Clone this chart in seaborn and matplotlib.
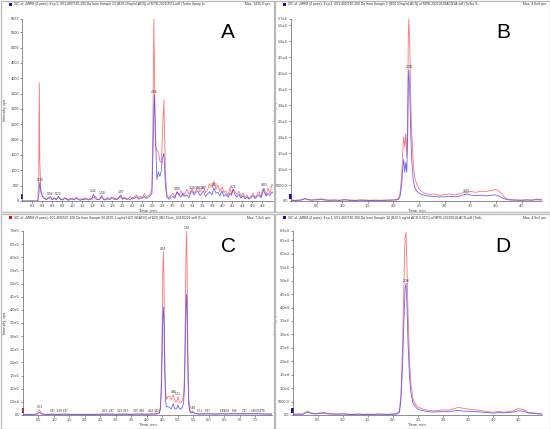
import numpy as np
import pandas as pd
import matplotlib.pyplot as plt
import seaborn as sns
from matplotlib.patches import Rectangle

sns.set_style('ticks')
plt.rcParams['font.family'] = ['Liberation Sans', 'DejaVu Sans']

# ---------------- panel A : 601.4/540.3, 10 ng/ml ----------------
A_t = [0.00, 0.31, 0.33, 0.34, 0.35, 0.37, 0.40, 0.44, 0.48, 0.52,
       0.56, 0.60, 0.64, 0.68, 0.72, 0.76, 0.80, 0.84, 0.88, 0.92,
       0.96, 1.00, 1.04, 1.08, 1.12, 1.16, 1.20, 1.24, 1.28, 1.32,
       1.36, 1.40, 1.42, 1.46, 1.50, 1.54, 1.59, 1.62, 1.66, 1.70,
       1.74, 1.78, 1.82, 1.86, 1.90, 1.94, 1.97, 2.00, 2.04, 2.08,
       2.12, 2.16, 2.20, 2.24, 2.28, 2.32, 2.36, 2.40, 2.44, 2.48,
       2.52, 2.56, 2.59, 2.61, 2.63, 2.64, 2.66, 2.69, 2.72, 2.75,
       2.78, 2.80, 2.83, 2.86, 2.89, 2.93, 2.97, 3.01, 3.05, 3.09,
       3.13, 3.17, 3.21, 3.25, 3.29, 3.33, 3.36, 3.39, 3.43, 3.47,
       3.51, 3.55, 3.59, 3.62, 3.66, 3.70, 3.74, 3.79, 3.83, 3.87,
       3.91, 3.95, 3.99, 4.03, 4.07, 4.11, 4.15, 4.18, 4.21, 4.25,
       4.29, 4.33, 4.37, 4.41, 4.45, 4.49, 4.53, 4.57, 4.61, 4.65,
       4.69, 4.73, 4.77, 4.80, 4.83, 4.87, 4.91, 4.95, 4.99, 5.01]
A_red = [0, 0, 900, 3850, 1300, 350, 180, 90, 60, 110,
         70, 40, 110, 60, 130, 80, 40, 120, 50, 30,
         90, 40, 60, 120, 40, 80, 30, 100, 60, 40,
         90, 50, 110, 160, 60, 40, 120, 70, 50, 110,
         60, 130, 50, 90, 40, 160, 110, 70, 130, 60,
         90, 150, 60, 120, 200, 90, 160, 110, 240, 130,
         180, 250, 400, 2500, 5931, 4500, 1800, 1650, 1600, 1300,
         1250, 2200, 3300, 900, 200, 90, 180, 250, 130, 300,
         180, 340, 150, 260, 380, 220, 300, 410, 260, 330,
         440, 300, 390, 480, 280, 350, 560, 420, 650, 380,
         520, 300, 460, 280, 330, 190, 420, 240, 400, 300,
         210, 320, 150, 260, 120, 200, 80, 150, 260, 110,
         200, 310, 140, 380, 300, 180, 420, 250, 550, 500]
A_blue = [0, 0, 200, 450, 600, 300, 150, 80, 40, 90,
          150, 50, 80, 40, 150, 60, 30, 70, 90, 20,
          60, 80, 30, 100, 50, 20, 70, 40, 90, 30,
          50, 100, 230, 70, 40, 60, 180, 60, 30, 80,
          40, 90, 110, 40, 70, 120, 200, 60, 100, 50,
          70, 40, 110, 80, 140, 60, 100, 90, 150, 80,
          120, 180, 250, 1500, 3000, 3450, 2200, 700, 950, 800,
          1000, 1400, 1550, 500, 120, 60, 110, 150, 90, 300,
          220, 120, 260, 150, 200, 110, 250, 330, 200, 280,
          330, 180, 260, 330, 150, 220, 300, 200, 420, 260,
          280, 170, 330, 150, 230, 120, 260, 180, 380, 200,
          130, 220, 90, 180, 70, 140, 60, 110, 180, 80,
          150, 200, 100, 250, 420, 160, 250, 180, 300, 260]
A_peaks = [0.35, 0.56, 0.72, 1.42, 1.59, 1.97, 2.64, 3.09, 3.39, 3.51, 3.62, 3.83, 4.21, 4.83]
A_peak_names = ['0.34', '0.56', '0.72', '1.42', '1.59', '1.97', '2.64', '3.09',
                '3.39', '3.51', '3.62', '3.83', '4.21', '4.83']
A_yticks = [0, 500, 1000, 1500, 2000, 2500, 3000, 3500, 4000, 4500, 5000, 5500, 5931]
A_ylabels = ['0', '500', '1000', '1500', '2000', '2500', '3000', '3500', '4000',
             '4500', '5000', '5500', '5931']

# ---------------- panel B : 50 ng/ml ----------------
B_t = [0.00, 0.10, 0.20, 0.28, 0.32, 0.40, 0.50, 0.60, 0.66, 0.75,
       0.85, 0.95, 1.05, 1.15, 1.25, 1.35, 1.45, 1.55, 1.65, 1.75,
       1.85, 1.95, 2.05, 2.10, 2.13, 2.16, 2.18, 2.20, 2.22, 2.24,
       2.26, 2.28, 2.29, 2.30, 2.32, 2.34, 2.36, 2.39, 2.42, 2.46,
       2.50, 2.55, 2.60, 2.70, 2.80, 2.90, 3.00, 3.10, 3.20, 3.30,
       3.38, 3.43, 3.50, 3.60, 3.70, 3.80, 3.90, 4.00, 4.05, 4.10,
       4.15, 4.20, 4.25, 4.30, 4.40, 4.50, 4.60, 4.70, 4.80, 4.90]
B_red = [300, 250, 350, 900, 500, 350, 500, 700, 400, 300,
         350, 250, 500, 300, 250, 350, 300, 250, 300, 250,
         300, 350, 400, 800, 2500, 8000, 15000, 20000, 17000, 21000,
         14000, 30000, 52000, 57000, 48000, 30000, 20000, 11000, 7000, 5000,
         3800, 3000, 2500, 2000, 2200, 1800, 2000, 2200, 1900, 2300,
         2800, 2600, 3000, 2700, 3100, 2900, 3300, 3600, 3200, 2500,
         1500, 800, 500, 400, 350, 300, 400, 300, 600, 400]
B_blue = [200, 150, 300, 700, 400, 250, 350, 450, 300, 200,
          250, 200, 350, 200, 150, 250, 200, 150, 200, 150,
          200, 250, 300, 500, 1500, 5000, 10000, 13000, 9000, 12000,
          9000, 22000, 38000, 41000, 33000, 20000, 12000, 6000, 4000, 3000,
          2500, 2000, 1800, 1500, 1400, 1300, 1300, 1500, 1300, 1600,
          2000, 2200, 1900, 1700, 1800, 1600, 1800, 1900, 1600, 1200,
          800, 500, 350, 300, 250, 200, 300, 250, 400, 300]
B_peaks = [2.30, 3.43]
B_peak_names = ['2.30', '3.43']
B_yticks = [0, 5000, 10000, 15000, 20000, 25000, 30000, 35000, 40000, 45000, 50000, 55000, 57000]
B_ylabels = ['0.0', '5000.0', '1.0e4', '1.5e4', '2.0e4', '2.5e4', '3.0e4', '3.5e4',
             '4.0e4', '4.5e4', '5.0e4', '5.5e4', '5.7e4']

# ---------------- panel C : 1 ug/ml, 601.4/507.3 ----------------
C_t = [0.00, 0.20, 0.40, 0.48, 0.53, 0.58, 0.65, 0.80, 0.97, 1.10,
       1.20, 1.37, 1.60, 1.80, 2.00, 2.20, 2.40, 2.63, 2.87, 3.00,
       3.13, 3.33, 3.50, 3.65, 3.84, 4.00, 4.14, 4.32, 4.40, 4.44,
       4.47, 4.50, 4.52, 4.54, 4.56, 4.58, 4.61, 4.64, 4.68, 4.72,
       4.76, 4.80, 4.83, 4.86, 4.90, 4.94, 4.98, 5.01, 5.05, 5.10,
       5.15, 5.19, 5.22, 5.25, 5.27, 5.29, 5.31, 5.33, 5.36, 5.40,
       5.44, 5.48, 5.55, 5.71, 5.97, 6.20, 6.45, 6.58, 6.86, 7.17,
       7.46, 7.62, 7.76, 7.90, 8.05]
C_red = [2000, 2500, 3000, 8000, 20000, 9000, 4000, 3000, 4000, 3000,
         3500, 4000, 3000, 2500, 3000, 2800, 3200, 4000, 4000, 3200,
         3800, 4000, 3200, 4200, 4300, 3500, 4500, 5000, 9000, 30000,
         120000, 350000, 550000, 620000, 500000, 250000, 90000, 60000, 68000, 72000,
         65000, 58000, 72000, 76000, 58000, 50000, 55000, 70000, 50000, 45000,
         55000, 75000, 150000, 400000, 620000, 700000, 520000, 250000, 60000, 18000,
         10000, 16000, 7000, 5000, 6000, 4500, 5500, 5000, 6000, 5500,
         5500, 6000, 5000, 4500, 4000]
C_blue = [1500, 1800, 2000, 4000, 10000, 5000, 2500, 2000, 2800, 2000,
          2500, 2800, 2000, 1800, 2000, 1900, 2200, 3000, 2800, 2200,
          2600, 2800, 2200, 3000, 3000, 2500, 3200, 3500, 6000, 20000,
          80000, 230000, 370000, 410000, 340000, 170000, 50000, 30000, 32000, 30000,
          26000, 24000, 35000, 42000, 25000, 22000, 28000, 38000, 25000, 22000,
          28000, 45000, 100000, 280000, 420000, 460000, 350000, 160000, 35000, 12000,
          7000, 11000, 5000, 3500, 4000, 3200, 4000, 3500, 4200, 4000,
          4000, 4200, 3500, 3200, 3000]
C_peaks = [0.53, 0.97, 1.20, 1.37, 2.63, 2.87, 3.13, 3.33, 3.65, 3.84, 4.14, 4.32,
           4.54, 4.86, 5.01, 5.29, 5.48, 5.71, 5.97, 6.45, 6.58, 6.86, 7.17, 7.46, 7.62, 7.76]
C_peak_names = ['%.2f' % p for p in C_peaks]
C_yticks = [0, 5e4, 1e5, 1.5e5, 2e5, 2.5e5, 3e5, 3.5e5, 4e5, 4.5e5, 5e5, 5.5e5, 6e5, 6.5e5, 7e5]
C_ylabels = ['0.0', '5.0e4', '1.0e5', '1.5e5', '2.0e5', '2.5e5', '3.0e5', '3.5e5',
             '4.0e5', '4.5e5', '5.0e5', '5.5e5', '6.0e5', '6.5e5', '7.0e5']

# ---------------- panel D : 5 ng/ml ----------------
D_t = [0.00, 0.10, 0.20, 0.30, 0.35, 0.45, 0.55, 0.62, 0.70, 0.80,
       0.90, 1.00, 1.10, 1.20, 1.30, 1.40, 1.50, 1.60, 1.70, 1.80,
       1.90, 2.00, 2.08, 2.13, 2.16, 2.19, 2.22, 2.24, 2.26, 2.28,
       2.30, 2.33, 2.36, 2.40, 2.45, 2.50, 2.55, 2.62, 2.70, 2.80,
       2.90, 3.00, 3.10, 3.20, 3.30, 3.40, 3.50, 3.60, 3.70, 3.80,
       3.90, 4.00, 4.10, 4.20, 4.30, 4.40, 4.50, 4.60, 4.70, 4.80,
       4.90, 4.97]
D_red = [300, 400, 350, 1500, 900, 500, 800, 1000, 600, 500,
         400, 500, 350, 300, 400, 300, 350, 300, 400, 350,
         300, 400, 500, 1500, 8000, 25000, 50000, 66000, 68000, 55000,
         38000, 20000, 11000, 6000, 4000, 3000, 2500, 2000, 1800, 1500,
         1700, 1900, 1800, 2300, 2800, 2500, 2200, 2000, 1800, 1500,
         1200, 1000, 1300, 1100, 1200, 1600, 2400, 2000, 1000, 800,
         600, 500]
D_blue = [200, 300, 250, 1100, 700, 350, 600, 700, 400, 300,
          300, 350, 250, 200, 300, 200, 250, 200, 300, 250,
          200, 300, 350, 1000, 6000, 18000, 36000, 47000, 49000, 40000,
          27000, 14000, 8000, 4500, 3000, 2200, 1800, 1500, 1300, 1100,
          1200, 1300, 1200, 1500, 1700, 1500, 1400, 1300, 1200, 1000,
          900, 700, 900, 800, 900, 1100, 1600, 1400, 700, 600,
          400, 300]
D_peaks = [2.26]
D_peak_names = ['2.26']
D_yticks = [0, 5000, 1e4, 1.5e4, 2e4, 2.5e4, 3e4, 3.5e4, 4e4, 4.5e4, 5e4, 5.5e4, 6e4, 6.5e4, 6.85e4]
D_ylabels = ['0.0', '5000.0', '1.0e4', '1.5e4', '2.0e4', '2.5e4', '3.0e4', '3.5e4',
             '4.0e4', '4.5e4', '5.0e4', '5.5e4', '6.0e4', '6.5e4', '6.8e4']

titles = [
    'XIC of +MRM (4 pairs): Exp 2, 601.400/540.300 Da from Sample 21 (B29 10ng/ml ACN) of MPB-20210521.wiff (Turbo Spray Io...',
    'XIC of +MRM (4 pairs): Exp 1, 601.400/540.300 Da from Sample 5 (B00 50ng/ml ACN) of MPB-20210618ACN1A.wiff (Turbo S...',
    'XIC of +MRM (9 pairs): 601.400/507.300 Da from Sample 98 (B29 1 ug/ml H2O SKACN) of B29_MD 15cm_20230221.wiff (Turb...',
    'XIC of +MRM (4 pairs): Exp 1, 601.400/540.300 Da from Sample 10 (B29 5 ng/ml ACN 0.01%) of MPB-20210618-ACN.wiff (Turb...',
]
max_texts = ['Max. 3435.0 cps.', 'Max. 4.0e4 cps.', 'Max. 7.0e5 cps.', 'Max. 4.9e4 cps.']

RED = '#ff5c5c'
BLUE = '#4b4bff'
W, H = 550, 429

fig = plt.figure(figsize=(5.5, 4.29), dpi=100)


def fxy(x, y):
    return x / W, 1 - y / H


def draw_panel(area, axbox, t, red, blue, xmax, xstep, ymax, yticks, ylabels,
               peaks, peak_names, labelled, letter, title, maxtxt, sq, labsize=2.6, ylab_x=7):
    l, top, r, b = area
    fig.add_artist(Rectangle(fxy(l + 0.5, b - 0.5), (r - l - 1) / W, (b - top - 1) / H,
                             transform=fig.transFigure, fill=False, edgecolor='#b8b8b8', lw=0.9))
    # header line
    fig.add_artist(Rectangle(fxy(l + 9, top + 6), 3 / W, 3 / H, transform=fig.transFigure,
                             color=sq, lw=0))
    fig.text(*fxy(l + 14, top + 4.5), title, fontsize=2.4, va='center', ha='left', color='#333333')
    fig.text(*fxy(r - 3, top + 4.5), maxtxt, fontsize=2.4, va='center', ha='right', color='#333333')

    al, at, ar, ab = axbox
    ax = fig.add_axes([al / W, 1 - ab / H, (ar - al) / W, (ab - at) / H])
    df = pd.DataFrame({'t': t, 'red': red, 'blue': blue})
    sns.lineplot(data=df, x='t', y='red', color=RED, lw=0.6, alpha=0.85, ax=ax)
    sns.lineplot(data=df, x='t', y='blue', color=BLUE, lw=0.6, alpha=0.85, ax=ax)

    ax.set_xlim(0, xmax)
    ax.set_ylim(0, ymax)
    xt = np.arange(xstep, xmax - 0.05, xstep)
    ax.set_xticks(xt)
    ax.set_xticklabels(['%.1f' % v for v in xt])
    ax.set_yticks(yticks)
    ax.set_yticklabels(ylabels)
    ax.tick_params(labelsize=2.8, length=1.5, width=0.4, pad=0.8, colors='#404040')
    for s in ['left', 'bottom']:
        ax.spines[s].set_linewidth(0.5)
        ax.spines[s].set_color('#606060')
    sns.despine(ax=ax)
    ax.set_xlabel('Time, min', fontsize=3, labelpad=0.5, color='#333333')
    ax.set_ylabel('Intensity, cps', fontsize=2.8, color='#333333')
    ax.yaxis.set_label_coords((l + ylab_x - al) / (ar - al), 0.5)

    src = red if labelled == 'red' else blue
    for p, name in zip(peaks, peak_names):
        ax.annotate(name, (p, np.interp(p, t, src)), xytext=(0, 0.6), textcoords='offset points',
                    ha='center', va='bottom', fontsize=labsize, color='#333333', annotation_clip=False)
    ax.add_patch(Rectangle((-0.006, 0.012), 0.01, 0.025, transform=ax.transAxes,
                           color=sq, lw=0, clip_on=False))

    fig.text(*fxy(l + 228 if l == 0 else l + 229, top + 33), letter, fontsize=15,
             ha='center', va='center', color='black')


draw_panel((0, 0, 274, 213), (22.3, 19, 273, 201), A_t, A_red, A_blue, 5.01, 0.2, 5931,
           A_yticks, A_ylabels, A_peaks, A_peak_names, 'blue', 'A', titles[0], max_texts[0], '#1010d0',
           labsize=2.4)
draw_panel((274, 0, 550, 213), (291, 19, 542, 201), B_t, B_red, B_blue, 4.9, 0.5, 57000,
           B_yticks, B_ylabels, B_peaks, B_peak_names, 'blue', 'B', titles[1], max_texts[1], '#1010d0',
           ylab_x=3.5)
draw_panel((0, 213, 274, 429), (23, 231, 272, 415), C_t, C_red, C_blue, 8.05, 0.5, 7.0e5,
           C_yticks, C_ylabels, C_peaks, C_peak_names, 'red', 'C', titles[2], max_texts[2], '#e01010',
           labsize=2.2)
draw_panel((274, 213, 550, 429), (292.6, 231, 542, 415), D_t, D_red, D_blue, 4.97, 0.5, 6.85e4,
           D_yticks, D_ylabels, D_peaks, D_peak_names, 'blue', 'D', titles[3], max_texts[3], '#1010d0',
           ylab_x=3.5)

fig.savefig('out.png', dpi=100, facecolor='white')
